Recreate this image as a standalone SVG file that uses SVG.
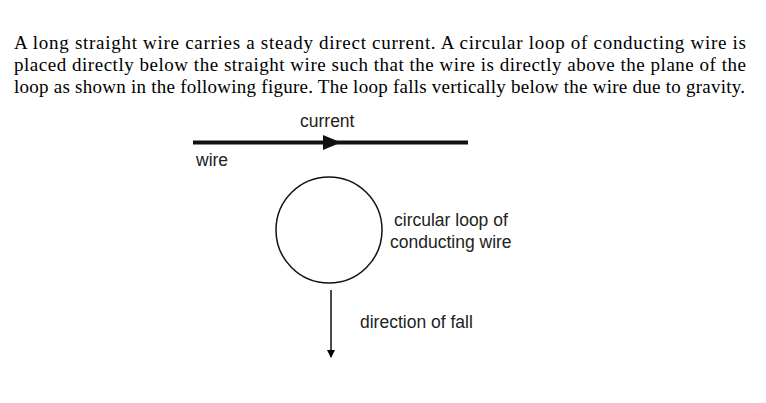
<svg xmlns="http://www.w3.org/2000/svg" width="766" height="403" viewBox="0 0 766 403">
<style>
.p{font-family:"Liberation Serif",serif;font-size:19px;fill:#000}
.l{font-family:"Liberation Sans",Arial,sans-serif;font-size:17.5px;fill:#222}
</style>
<defs><marker id="ah" markerWidth="8" markerHeight="8" refX="7" refY="4" orient="auto" markerUnits="userSpaceOnUse"><path d="M0,0 L8,4 L0,8 z" fill="#000"/></marker></defs>
<rect width="766" height="403" fill="#fff"/>
<g id="text">
<text class="p" x="14" y="49" textLength="732" lengthAdjust="spacing">A long straight wire carries a steady direct current. A circular loop of conducting wire is</text>
<text class="p" x="14" y="71" textLength="732" lengthAdjust="spacing">placed directly below the straight wire such that the wire is directly above the plane of the</text>
<text class="p" x="14" y="93" textLength="731" lengthAdjust="spacing">loop as shown in the following figure. The loop falls vertically below the wire due to gravity.</text>
</g>
<g id="wire">
<line x1="193" y1="142.5" x2="468" y2="142.5" stroke="#111" stroke-width="4"/>
<path d="M323,135 L341,142.5 L323,150 z" fill="#111"/>
<text class="l" x="300" y="127">current</text>
<text class="l" x="196" y="166">wire</text>
</g>
<g id="loop">
<circle cx="329" cy="230" r="53" fill="none" stroke="#111" stroke-width="1.5"/>
<text class="l" x="394" y="226">circular loop of</text>
<text class="l" x="390" y="248">conducting wire</text>
</g>
<g id="connectors">
<line x1="331" y1="290" x2="331" y2="357" stroke="#111" stroke-width="1.5" marker-end="url(#ah)"/>
<text class="l" x="360" y="328">direction of fall</text>
</g>
</svg>
